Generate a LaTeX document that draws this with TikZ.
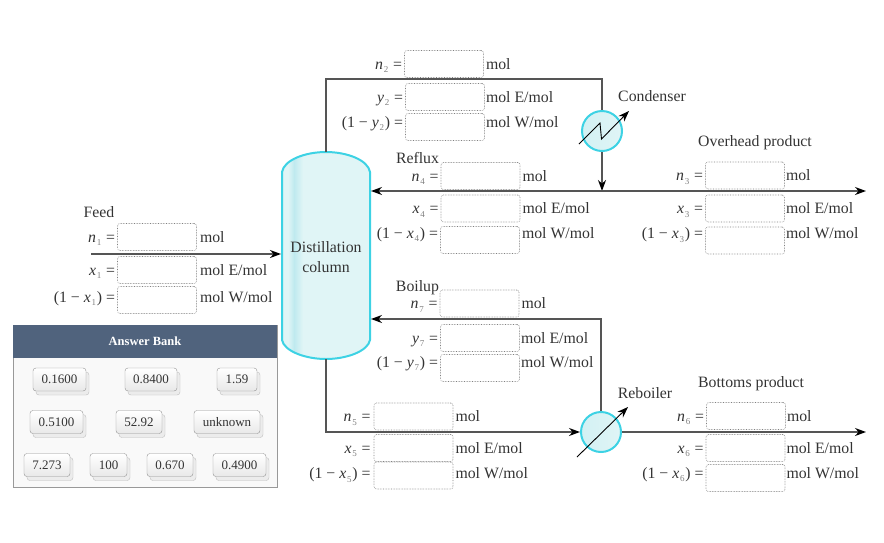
\documentclass[tikz,border=0pt]{standalone}
\usepackage{fontspec}
\setmainfont{Liberation Serif}
\usetikzlibrary{positioning,arrows.meta,shadows}
\definecolor{txt}{HTML}{333333}
\definecolor{pipe}{HTML}{555555}
\definecolor{rim}{HTML}{3DD2E4}
\definecolor{tank}{HTML}{E0F5F6}
\definecolor{band}{HTML}{BFEAEF}
\definecolor{bankhead}{HTML}{50637D}
\newcommand{\sym}[2]{\textit{#1}\kern.8pt\raisebox{-3.5pt}{\fontsize{9}{9}\selectfont\color{gray}#2}\kern.8pt\relax}
\begin{document}
\begin{tikzpicture}[x=1pt,y=-1pt,font=\fontsize{15.8}{18}\selectfont,text=txt,
ansbox/.style={draw=gray,densely dotted,line width=.6pt,rounded corners=2.5pt,inner sep=0pt,minimum width=79pt,minimum height=27pt},
eqn/.style={inner sep=0pt,text height=13pt,text depth=3pt,anchor=east},
unit/.style={inner sep=0pt,text height=13pt,text depth=3pt,anchor=west},
tag/.style={inner sep=0pt},
pipeline/.style={draw=pipe,line width=1.3pt},
flow/.style={pipeline,-{Stealth[length=11pt,width=8pt,color=black]}},
vessel/.style={circle,draw=rim,line width=2pt,left color=band!40!tank,middle color=tank,right color=tank,minimum size=40pt,inner sep=0pt},
chip/.style={draw=gray!85,rounded corners=3pt,top color=white,bottom color=gray!18,minimum height=23pt,inner sep=0pt,font=\fontsize{13}{14}\selectfont,
  copy shadow={shadow xshift=3pt,shadow yshift=-4pt,draw=gray!50,fill=gray!15}}]
\useasboundingbox (0,0) rectangle (884,542);
% column
\path[fill=tank] (282,172) .. controls (284,160) and (305,152) .. (326,152) .. controls (347,152) and (368,160) .. (370,172) -- (370,340) .. controls (368,351) and (347,359) .. (326,359) .. controls (305,359) and (284,351) .. (282,340) -- cycle;
\begin{scope}
\clip (282,172) .. controls (284,160) and (305,152) .. (326,152) .. controls (347,152) and (368,160) .. (370,172) -- (370,340) .. controls (368,351) and (347,359) .. (326,359) .. controls (305,359) and (284,351) .. (282,340) -- cycle;
\shade[left color=tank,right color=band] (288,152) rectangle (294,359);
\shade[left color=band,right color=tank] (294,152) rectangle (303,359);
\end{scope}
\draw[draw=rim,line width=2pt] (282,172) .. controls (284,160) and (305,152) .. (326,152) .. controls (347,152) and (368,160) .. (370,172) -- (370,340) .. controls (368,351) and (347,359) .. (326,359) .. controls (305,359) and (284,351) .. (282,340) -- cycle;
\node[inner sep=0pt,minimum width=88pt,minimum height=207pt] (col) at (326,255.5) {};
\node[align=center,inner sep=0pt] (colname) at (326,257.5) {Distillation\\[2pt]column};
\coordinate (feedin) at (91,254);
\coordinate (feedend) at (281,254);
\coordinate (topbend1) at (326,79);
\coordinate (topbend2) at (602,79);
\coordinate (refluxjoin) at (602,191);
\coordinate (refluxend) at (371,191);
\coordinate (overhead) at (866,191);
\coordinate (boilbend) at (601,319);
\coordinate (boilend) at (371,319);
\coordinate (botbend) at (326,432);
\coordinate (bottoms) at (866,432);
% exchangers
\node[vessel] (cond) at (602,131) {};
\node[vessel] (reb) at (601,432) {};
% connectors
\draw[pipeline] (col.north) -- (topbend1) -- (topbend2) -- (cond.north);
\draw[flow] (cond.south) -- (refluxjoin);
\draw[flow] (refluxjoin) -- (refluxend);
\draw[flow] (refluxjoin) -- (overhead);
\draw[flow,line width=1.7pt] (feedin) -- (feedend);
\draw[flow] (reb.north) -- (boilbend) -- (boilend);
\draw[flow] (col.south) -- (botbend) -- (reb.west);
\draw[flow] (reb.east) -- (bottoms);
\draw[-{Stealth[length=11pt,width=8pt]},draw=black,line width=.9pt] (579,144) -- (600,123) -- (601.5,139) -- (629,111);
\draw[-{Stealth[length=11pt,width=8pt]},draw=black,line width=.9pt] (577,457) -- (628,407);
% stream tags
\node[tag] (feedtag) at (99,212) {Feed};
\node[tag] (condtag) at (652,96) {Condenser};
\node[tag] (overtag) at (755,143) {Overhead product};
\node[tag] (reflextag) at (417.5,158) {Reflux};
\node[tag] (boiltag) at (417.5,288) {Boilup};
\node[tag] (rebtag) at (645,393) {Reboiler};
\node[tag] (bottag) at (751,384) {Bottoms product};
% feed
\node[ansbox] (n1) at (157,237) {};
\node[eqn,left=2pt of n1] (n1eq) {\sym{n}{1} =};
\node[unit,right=3pt of n1] (n1u) {mol};
\node[ansbox] (x1) at (157,270) {};
\node[eqn,left=2pt of x1] (x1eq) {\sym{x}{1} =};
\node[unit,right=3pt of x1] (x1u) {mol E/mol};
\node[ansbox] (w1) at (157,300) {};
\node[eqn,left=2pt of w1,yshift=3pt] (w1eq) {(1 − \sym{x}{1}) =};
\node[unit,right=3pt of w1,yshift=3pt] (w1u) {mol W/mol};
% top
\node[ansbox] (n2) at (444,64) {};
\node[eqn,left=2pt of n2] (n2eq) {\sym{n}{2} =};
\node[unit,right=2pt of n2] (n2u) {mol};
\node[ansbox] (x2) at (445,97) {};
\node[eqn,left=2pt of x2] (x2eq) {\sym{y}{2} =};
\node[unit,right=1pt of x2] (x2u) {mol E/mol};
\node[ansbox] (w2) at (445,127) {};
\node[eqn,left=2pt of w2,yshift=5pt] (w2eq) {(1 − \sym{y}{2}) =};
\node[unit,right=1pt of w2,yshift=5pt] (w2u) {mol W/mol};
% reflux
\node[ansbox] (n4) at (480.5,176) {};
\node[eqn,left=2pt of n4] (n4eq) {\sym{n}{4} =};
\node[unit,right=2pt of n4] (n4u) {mol};
\node[ansbox] (x4) at (480.5,208.5) {};
\node[eqn,left=2pt of x4] (x4eq) {\sym{x}{4} =};
\node[unit,right=2pt of x4] (x4u) {mol E/mol};
\node[ansbox] (w4) at (480,240) {};
\node[eqn,left=2pt of w4,yshift=7pt] (w4eq) {(1 − \sym{x}{4}) =};
\node[unit,right=2pt of w4,yshift=7pt] (w4u) {mol W/mol};
% overhead
\node[ansbox] (n3) at (745,175.5) {};
\node[eqn,left=2pt of n3] (n3eq) {\sym{n}{3} =};
\node[unit,right=1pt of n3] (n3u) {mol};
\node[ansbox] (x3) at (745,208.5) {};
\node[eqn,left=2pt of x3] (x3eq) {\sym{x}{3} =};
\node[unit,right=1pt of x3] (x3u) {mol E/mol};
\node[ansbox] (w3) at (745,240.5) {};
\node[eqn,left=2pt of w3,yshift=7pt] (w3eq) {(1 − \sym{x}{3}) =};
\node[unit,right=1pt of w3,yshift=7pt] (w3u) {mol W/mol};
% boilup
\node[ansbox] (n7) at (479.5,303.5) {};
\node[eqn,left=2pt of n7] (n7eq) {\sym{n}{7} =};
\node[unit,right=2pt of n7] (n7u) {mol};
\node[ansbox] (x7) at (480,338) {};
\node[eqn,left=2pt of x7] (x7eq) {\sym{y}{7} =};
\node[unit,right=1pt of x7] (x7u) {mol E/mol};
\node[ansbox] (w7) at (480,368) {};
\node[eqn,left=2pt of w7,yshift=6pt] (w7eq) {(1 − \sym{y}{7}) =};
\node[unit,right=1pt of w7,yshift=6pt] (w7u) {mol W/mol};
% bottoms to reboiler
\node[ansbox] (n5) at (413.5,416.5) {};
\node[eqn,left=3pt of n5] (n5eq) {\sym{n}{5} =};
\node[unit,right=2pt of n5] (n5u) {mol};
\node[ansbox] (x5) at (413.5,448) {};
\node[eqn,left=3pt of x5] (x5eq) {\sym{x}{5} =};
\node[unit,right=2pt of x5] (x5u) {mol E/mol};
\node[ansbox] (w5) at (413.5,475.5) {};
\node[eqn,left=3pt of w5,yshift=2pt] (w5eq) {(1 − \sym{x}{5}) =};
\node[unit,right=2pt of w5,yshift=2pt] (w5u) {mol W/mol};
% bottoms product
\node[ansbox] (n6) at (746,416) {};
\node[eqn,left=2pt of n6] (n6eq) {\sym{n}{6} =};
\node[unit,right=1pt of n6] (n6u) {mol};
\node[ansbox] (x6) at (745.5,448) {};
\node[eqn,left=2pt of x6] (x6eq) {\sym{x}{6} =};
\node[unit,right=1pt of x6] (x6u) {mol E/mol};
\node[ansbox] (w6) at (745.5,478) {};
\node[eqn,left=2pt of w6,yshift=5pt] (w6eq) {(1 − \sym{x}{6}) =};
\node[unit,right=1pt of w6,yshift=5pt] (w6u) {mol W/mol};
% answer bank
\draw[draw=gray!80,fill=gray!5] (13,325) rectangle (277,487);
\node[fill=bankhead,text=white,minimum width=264pt,minimum height=33pt,inner sep=0pt,font=\fontsize{12.5}{14}\selectfont\bfseries] (bank) at (145,341.5) {Answer Bank};
\node[chip,minimum width=53pt] (c1) at (59.5,379.5) {0.1600};
\node[chip,minimum width=52pt] (c2) at (151,379.5) {0.8400};
\node[chip,minimum width=40pt] (c3) at (237,379.5) {1.59};
\node[chip,minimum width=53pt] (c4) at (56.5,422) {0.5100};
\node[chip,minimum width=46pt] (c5) at (139,422) {52.92};
\node[chip,minimum width=66pt] (c6) at (227,422) {unknown};
\node[chip,minimum width=46pt] (c7) at (47,465) {7.273};
\node[chip,minimum width=37pt] (c8) at (108.5,465) {100};
\node[chip,minimum width=46pt] (c9) at (170,465) {0.670};
\node[chip,minimum width=53pt] (c10) at (239.5,465) {0.4900};
\end{tikzpicture}
\end{document}
